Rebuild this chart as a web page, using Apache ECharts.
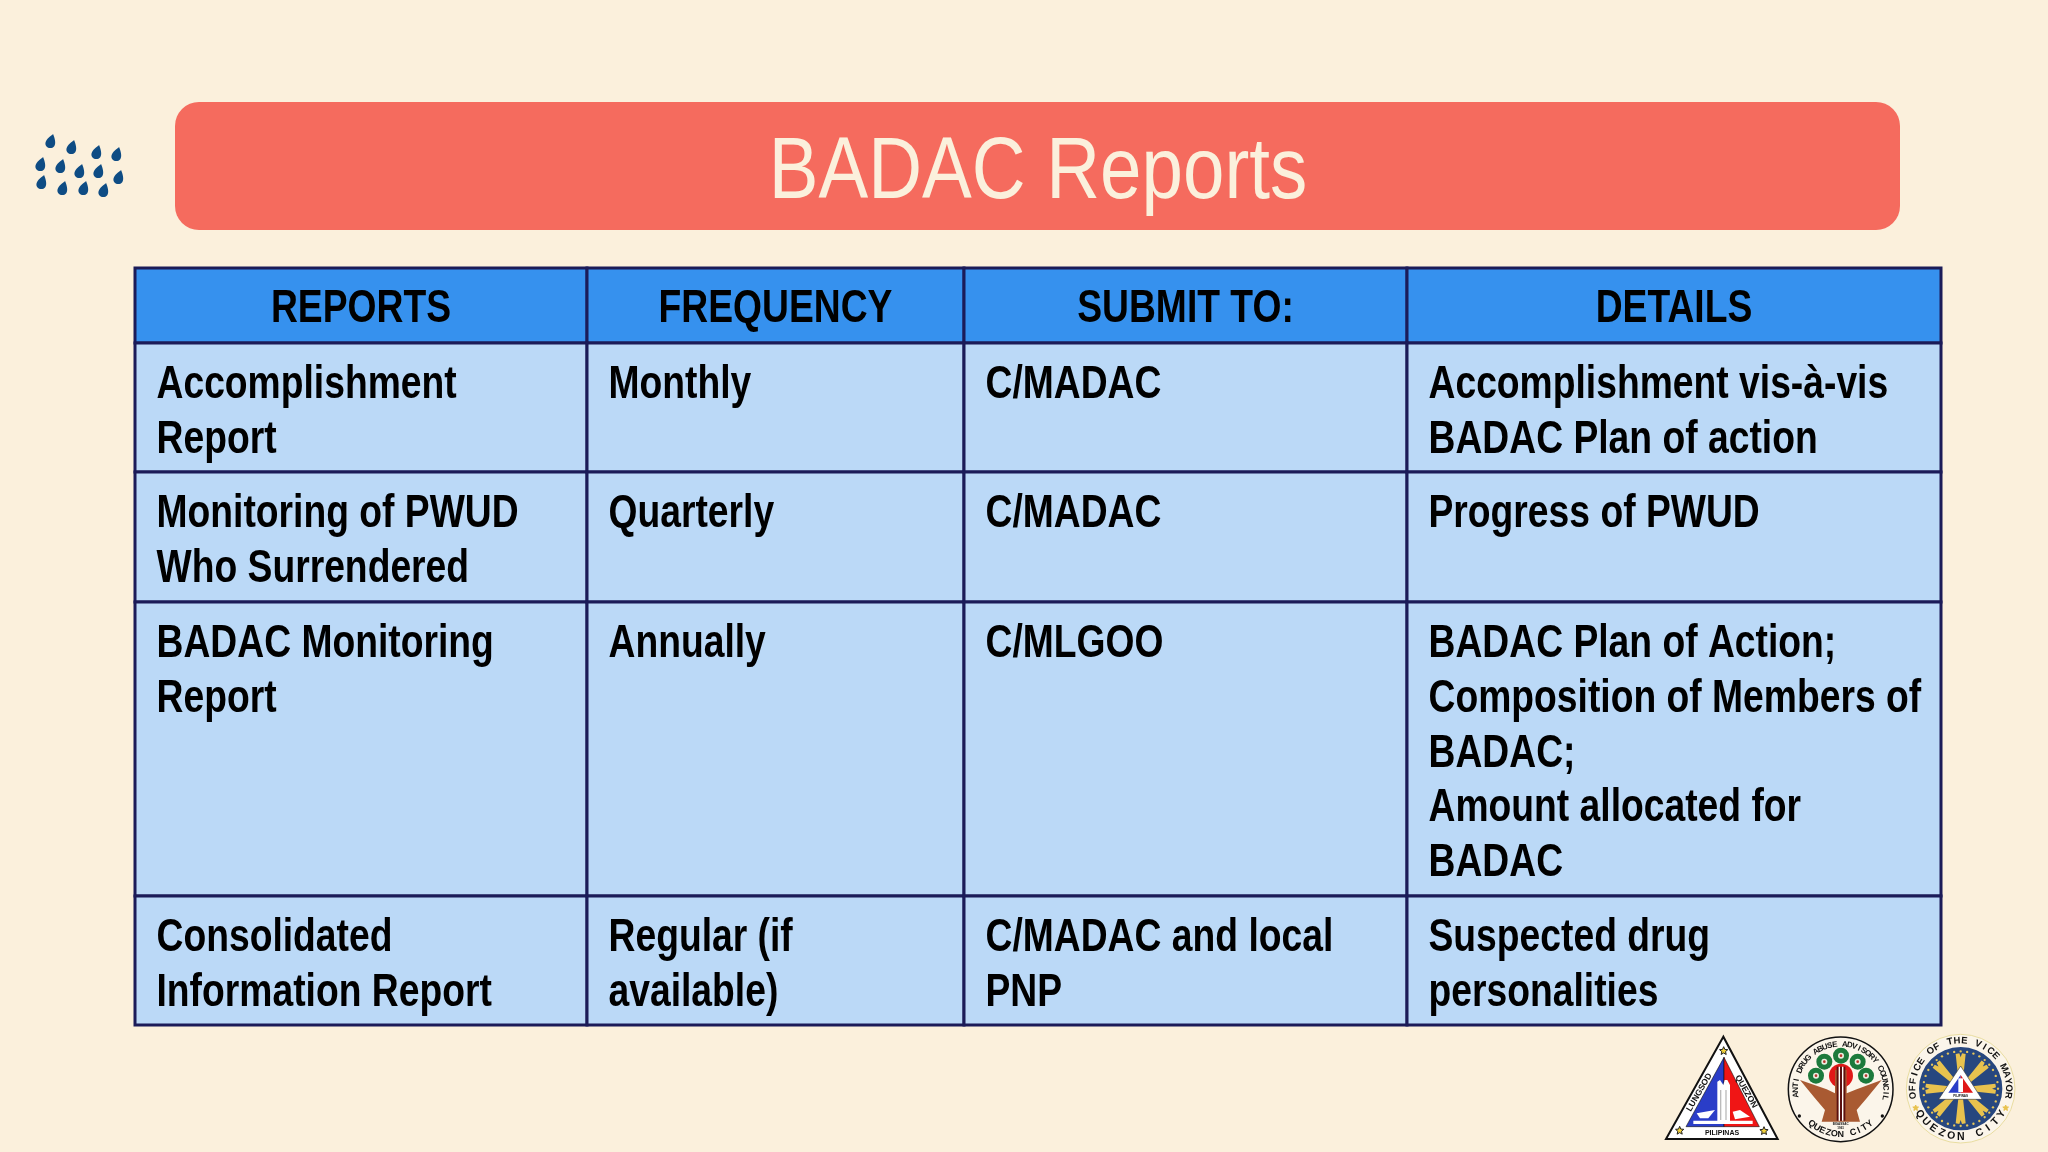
<!DOCTYPE html>
<html><head><meta charset="utf-8">
<style>html,body{margin:0;padding:0;background:#FBF0DC}#c{width:2048px;height:1152px}</style>
<script src="https://cdn.jsdelivr.net/npm/echarts@6/dist/echarts.min.js"></script>
</head><body><div id="c"></div>
<script>
// ---- content ----
const titleText = "BADAC Reports";
const headers = ["REPORTS","FREQUENCY","SUBMIT TO:","DETAILS"];
const reports = [["Accomplishment","Report"],["Monitoring of PWUD","Who Surrendered"],["BADAC Monitoring","Report"],["Consolidated","Information Report"]];
const frequency = [["Monthly"],["Quarterly"],["Annually"],["Regular (if","available)"]];
const submitTo = [["C/MADAC"],["C/MADAC"],["C/MLGOO"],["C/MADAC and local","PNP"]];
const details = [["Accomplishment vis-à-vis","BADAC Plan of action"],["Progress of PWUD"],["BADAC Plan of Action;","Composition of Members of","BADAC;","Amount allocated for","BADAC"],["Suspected drug","personalities"]];
// ---- layout ----
const colEdges = [135,587,964,1407,1941];
const rowEdges = [268,343,472,602,896,1025];
const BG="#FBF0DC", HEAD="#3691EE", CELL="#BBD9F7", LINE="#1B1B58", INK="#000";
const FONT='bold 46px "Liberation Sans"';
const SX=0.81, PAD=21.5, LINEH=54.7, FIRST=42.5;

const columns=[reports,frequency,submitTo,details];
const cells=[];
headers.forEach((h,c)=>cells.push({r:0,c,lines:[h],head:true}));
columns.forEach((col,c)=>col.forEach((lines,r)=>cells.push({r:r+1,c,lines,head:false})));

function renderCell(params,api){
  const d=cells[params.dataIndex];
  const x0=colEdges[d.c],x1=colEdges[d.c+1],y0=rowEdges[d.r],y1=rowEdges[d.r+1];
  const kids=[{type:'rect',shape:{x:x0,y:y0,width:x1-x0,height:y1-y0},
    style:{fill:d.head?HEAD:CELL,stroke:LINE,lineWidth:3}}];
  d.lines.forEach((t,i)=>{
    kids.push({type:'text',x:d.head?(x0+x1)/2:x0+PAD,y:d.head?(y0+y1)/2+4:y0+FIRST+i*LINEH,scaleX:SX,
      style:{text:t,fill:INK,font:FONT,textAlign:d.head?'center':'left',textVerticalAlign:'middle',verticalAlign:'middle'}});
  });
  return {type:'group',children:kids};
}

// ---- decoration ----
const g=[];
g.push({type:'rect',shape:{x:175,y:102,width:1725,height:128,r:24},style:{fill:'#F56B5E'}});
g.push({type:'text',x:1038,y:174,scaleX:0.847,style:{text:titleText,fill:BG,font:'88px "Liberation Sans"',textAlign:'center',textVerticalAlign:'middle',verticalAlign:'middle'}});
const drops=[[51,141],[72,147],[97,152],[117,154],[41,164],[61,166],[80,171],[99,171],[119,177],[42,182],[63,188],[84,188],[104,190]];
function dropPts(cx,cy){
  const pts=[],rot=0.3;
  for(let i=0;i<32;i++){
    const t=i/32*2*Math.PI, px=6.4*Math.sin(t)*Math.pow(Math.sin(t/2),1.1), py=-7.2*Math.cos(t);
    pts.push([cx+px*Math.cos(rot)-py*Math.sin(rot),cy+px*Math.sin(rot)+py*Math.cos(rot)]);
  }
  return pts;
}
drops.forEach(p=>g.push({type:'polygon',shape:{points:dropPts(p[0],p[1])},style:{fill:'#0E4C84'}}));
const P=(x,y)=>[1640+x/3,1010+y/3];
const poly=(pts,style)=>g.push({type:'polygon',shape:{points:pts.map(p=>P(p[0],p[1]))},style});
const circ=(x,y,r,style)=>{const p=P(x,y);g.push({type:'circle',shape:{cx:p[0],cy:p[1],r:r/3},style});};
const txt=(x,y,t,font,rot,fill)=>{const p=P(x,y);g.push({type:'text',x:p[0],y:p[1],rotation:rot||0,style:{text:t,font,fill:fill||'#111',textAlign:'center',textVerticalAlign:'middle',verticalAlign:'middle'}});};
function arc(str,cx,cy,r,a0,a1,font,bottom){
  const n=str.length;
  [...str].forEach((ch,i)=>{
    const th=(a0+(a1-a0)*(n===1?0:i/(n-1)))*Math.PI/180;
    txt(cx+r*Math.sin(th),cy-r*Math.cos(th),ch,font,bottom?Math.PI-th:-th);
  });
}
function star(x,y,r,fill,stroke){
  const pts=[];for(let i=0;i<10;i++){const a=i*Math.PI/5,q=i%2?r*0.45:r;pts.push([x+q*Math.sin(a),y-q*Math.cos(a)]);}
  poly(pts,{fill,stroke:stroke||'#222',lineWidth:1});
}
// Quezon City triangle seal
poly([[250,80],[78,387],[413,387]],{fill:'#fff',stroke:'#111',lineWidth:2,lineJoin:'miter'});
poly([[252,142],[138,350],[252,350]],{fill:'#2A3DC8',stroke:'#111',lineWidth:0.6});
poly([[252,142],[358,350],[252,350]],{fill:'#F01515',stroke:'#111',lineWidth:0.6});
poly([[232,215],[240,210],[250,225],[254,210],[262,210],[270,225],[270,340],[232,340]],{fill:'#fff'});
poly([[240,240],[244,240],[244,330],[240,330]],{fill:'#bbb'});poly([[256,240],[260,240],[260,330],[256,330]],{fill:'#bbb'});
poly([[160,332],[338,332],[338,342],[160,342]],{fill:'#fff'});
poly([[170,310],[225,300],[205,325],[180,325]],{fill:'#fff'});
poly([[278,305],[300,300],[330,320],[285,328]],{fill:'#fff'});
star(251,123,13,'#F3D23A');star(119,362,13,'#F3D23A');star(372,363,13,'#F3D23A');
txt(178,247,'LUNGSOD','bold 8.5px "Liberation Sans"',Math.PI/3);
txt(318,245,'QUEZON','bold 8.5px "Liberation Sans"',-Math.PI/3);
txt(246,368,'PILIPINAS','bold 7px "Liberation Sans"',0);
// Anti-drug council seal
circ(602,238,157,{fill:'#FBF5EA',stroke:'#111',lineWidth:1.5});
circ(603,197,36,{fill:'#E01818'});
poly([[480,210],[560,238],[585,250],[585,180],[620,180],[620,250],[650,238],[725,210],[680,265],[650,300],[660,335],[545,335],[555,300],[525,265]],{fill:'#A95A32'});
[[528,197],[553,155],[603,137],[653,155],[678,197]].forEach(p=>{circ(p[0],p[1],24,{fill:'#1C7A3C'});circ(p[0],p[1],9,{fill:'#E9EFE0'});circ(p[0],p[1],4,{fill:'#B8332A'});});
[[590,596],[600,606],[610,616]].forEach(a=>poly([[a[0],170],[a[1],170],[a[1],332],[a[0],332]],{fill:'#5A1010'}));
poly([[596,170],[600,170],[600,332],[596,332]],{fill:'#fff'});poly([[606,170],[610,170],[610,332],[606,332]],{fill:'#fff'});
circ(478,318,5,{fill:'#111'});circ(727,318,5,{fill:'#111'});
arc('ANTI DRUG ABUSE ADVISORY COUNCIL',602,238,135,-97,101,'bold 8px "Liberation Sans"');
arc('QUEZON CITY',602,238,135,220,140,'bold 9px "Liberation Sans"',true);
txt(602,343,'BIGASSAC','bold 3px "Liberation Sans"',0);txt(602,356,'1961','bold 3px "Liberation Sans"',0);
// Vice mayor seal
circ(962,236,163,{fill:'#FBF5EA',stroke:'#E9DDA0',lineWidth:1});
circ(962,236,125,{fill:'#27477F'});
for(let i=0;i<36;i++){const a=i*Math.PI/18;circ(962+112*Math.sin(a),236-112*Math.cos(a),3.5,{fill:'#E7C65A'});}
for(let i=0;i<8;i++){
  const a=i*Math.PI/4,c=Math.cos(a),s=Math.sin(a);
  const rp=(u,v)=>[962+u*s+v*c,236-u*c+v*s];
  const gold='#E8C24E';
  poly([rp(20,-6),rp(104,-15),rp(106,-4),rp(94,0),rp(106,4),rp(104,15),rp(20,6)],{fill:gold});
}
poly([[962,168],[896,268],[1026,268]],{fill:'#fff',stroke:'#333',lineWidth:0.6});
poly([[962,195],[925,248],[962,248]],{fill:'#2A3DC8'});poly([[962,195],[999,248],[962,248]],{fill:'#E01818'});
poly([[955,205],[969,205],[969,246],[955,246]],{fill:'#fff'});
txt(962,258,'PILIPINAS','bold 3px "Liberation Sans"',0);
star(827,294,9,'#E8C24E','#E8C24E');star(1097,294,9,'#E8C24E','#E8C24E');
arc('OFFICE OF THE VICE MAYOR',962,236,144,-98,98,'bold 9.5px "Liberation Sans"');
arc('QUEZON CITY',962,236,144,238,122,'bold 10.5px "Liberation Sans"',true);

const chart=echarts.init(document.getElementById('c'),null,{renderer:'canvas',width:2048,height:1152});
chart.setOption({
  animation:false,
  backgroundColor:BG,
  series:[{type:'custom',coordinateSystem:'none',silent:true,clip:false,data:cells.map((_,i)=>i),renderItem:renderCell,z:5}],
  graphic:{elements:g.map(e=>Object.assign(e,{silent:true,z:2}))}
});
</script></body></html>
